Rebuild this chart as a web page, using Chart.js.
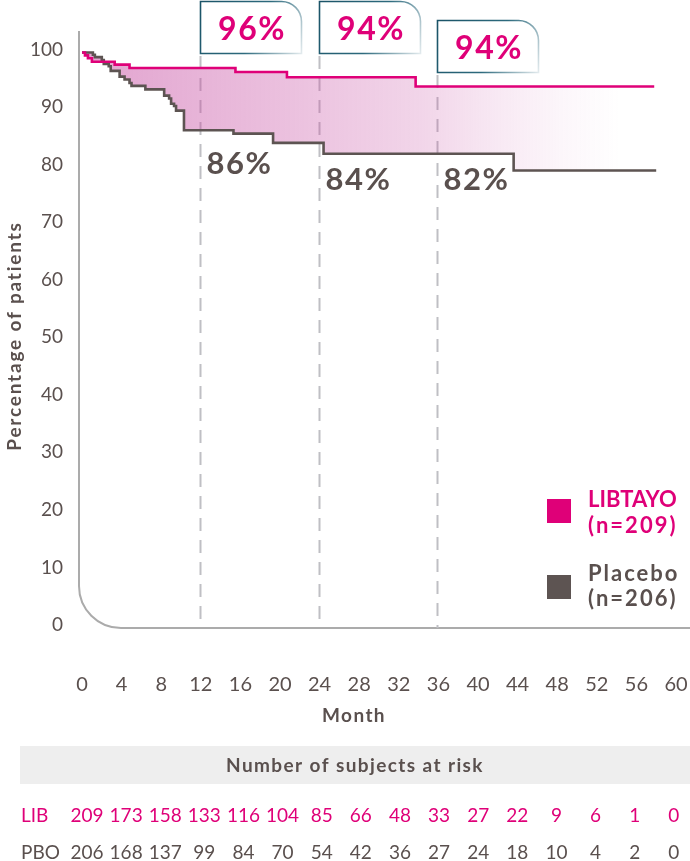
<!DOCTYPE html>
<html>
<head>
<meta charset="utf-8">
<script src="https://cdn.jsdelivr.net/npm/chart.js@4.4.1/dist/chart.umd.min.js"></script>
<style>
html,body{margin:0;padding:0;background:#ffffff;}
#wrap{width:690px;height:861px;position:relative;overflow:hidden;}
canvas{display:block;}
</style>
</head>
<body>
<div id="wrap"><canvas id="c" width="690" height="861"></canvas></div>
<script>
// ---------------- DATA ----------------
const monthTicks = [0,4,8,12,16,20,24,28,32,36,40,44,48,52,56,60];

// Kaplan-Meier steps: time (month) at which the curve drops, and the new value (%)
const libTimes = [0, 0.3, 0.6, 1.0, 3.3, 4.8, 15.5, 20.7, 33.7, 57.8];
const libSurv  = [100, 99.5, 99.0, 98.4, 97.9, 97.3, 96.6, 95.7, 94.1, 94.1];

const pboTimes = [0, 1.1, 1.3, 2.0, 2.2, 2.7, 2.9, 3.8, 4.3, 4.8, 5.0, 6.4, 8.3, 8.8, 9.0, 9.3, 9.5, 10.3, 15.3, 19.3, 24.4, 43.6, 58.0];
const pboSurv  = [100, 99.6, 99.2, 98.7, 98.0, 97.6, 96.8, 95.8, 95.3, 94.7, 94.2, 93.6, 92.5, 92.0, 91.1, 90.7, 89.9, 86.5, 85.9, 84.3, 82.4, 79.5, 79.5];

const markMonths     = [12, 24, 36];
const libMarkLabels  = ['96%', '94%', '94%'];
const pboMarkLabels  = ['86%', '84%', '82%'];

const libAtRisk = [209,173,158,133,116,104,85,66,48,33,27,22,9,6,1,0];
const pboAtRisk = [206,168,137,99,84,70,54,42,36,27,24,18,10,4,2,0];

const seriesNames = ['LIBTAYO', 'Placebo'];
const seriesN     = ['(n=209)', '(n=206)'];
const rowNames    = ['LIB', 'PBO'];

// ---------------- STYLE ----------------
const FONT = 'Lato, "Noto Sans", sans-serif';
const PINK = '#df0078';
const GRAY = '#5d5452';
const TXT  = '#5a504e';

// layout constants (pixels)
const BOX_TOP    = [1, 1, 20];
const BOX_H      = 52;
const BOX_W      = 101;
const PBO_LABEL_BASE = [174, 190, 190];

Chart.defaults.font.family = FONT;

function fillGrad(context){
  const ch = context.chart;
  const a = ch.chartArea;
  if(!a) return 'rgba(199,79,163,0.4)';
  const g = ch.ctx.createLinearGradient(a.left, 0, 620, 0);
  g.addColorStop(0.00, 'rgba(199,79,163,0.52)');
  g.addColorStop(0.40, 'rgba(199,79,163,0.35)');
  g.addColorStop(0.63, 'rgba(199,79,163,0.24)');
  g.addColorStop(0.77, 'rgba(199,79,163,0.13)');
  g.addColorStop(0.89, 'rgba(199,79,163,0.05)');
  g.addColorStop(1.00, 'rgba(199,79,163,0.0)');
  return g;
}

function roundTopRightBox(ctx, l, t, w, h, r){
  ctx.beginPath();
  ctx.moveTo(l, t + h);
  ctx.lineTo(l, t);
  ctx.lineTo(l + w - r, t);
  ctx.arcTo(l + w, t, l + w, t + r, r);
  ctx.lineTo(l + w, t + h);
  ctx.closePath();
}

function spaced(ctx, px){
  if ('letterSpacing' in ctx) ctx.letterSpacing = px + 'px';
}

const decor = {
  id: 'decor',
  beforeDatasetsDraw(chart){
    const {ctx, chartArea: a, scales: {x, y}} = chart;
    const y0 = y.getPixelForValue(0);
    ctx.save();
    // custom L-shaped axis with rounded corner
    ctx.strokeStyle = '#ababab';
    ctx.lineWidth = 2;
    const ax = a.left - 3, r = 42;
    ctx.beginPath();
    ctx.moveTo(ax, 31);
    ctx.lineTo(ax, y0 - r);
    ctx.arcTo(ax, y0, ax + r, y0, r);
    ctx.lineTo(chart.width, y0);
    ctx.stroke();
    // dashed verticals
    ctx.setLineDash([13, 9]);
    ctx.strokeStyle = '#bfbfc4';
    markMonths.forEach((m, i) => {
      const px = Math.round(x.getPixelForValue(m)) - 0.5;
      ctx.beginPath();
      ctx.moveTo(px, BOX_TOP[i] + BOX_H + 3);
      ctx.lineTo(px, y0);
      ctx.stroke();
    });
    ctx.restore();
  },
  afterDatasetsDraw(chart){
    const {ctx, scales: {x}} = chart;
    const W = chart.width;
    ctx.save();
    // value boxes
    markMonths.forEach((m, i) => {
      const l = Math.round(x.getPixelForValue(m)) - 0.5;
      const t = BOX_TOP[i] + 0.5;
      const g = ctx.createLinearGradient(l, t, l + BOX_W, t + BOX_H);
      g.addColorStop(0, '#1a5367');
      g.addColorStop(0.55, '#2d6a7d');
      g.addColorStop(1, '#e2eaed');
      ctx.fillStyle = '#ffffff';
      roundTopRightBox(ctx, l, t, BOX_W, BOX_H, 20);
      ctx.fill();
      ctx.strokeStyle = g;
      ctx.lineWidth = 1.6;
      ctx.stroke();
      ctx.fillStyle = PINK;
      ctx.font = 'bold 32px ' + FONT;
      spaced(ctx, 1.5);
      ctx.textAlign = 'center';
      ctx.textBaseline = 'alphabetic';
      ctx.fillText(libMarkLabels[i], l + BOX_W / 2 + 1, t + 38);
      // placebo labels
      ctx.fillStyle = TXT;
      ctx.font = 'bold 31px ' + FONT;
      ctx.textAlign = 'left';
      ctx.fillText(pboMarkLabels[i], l + 6, PBO_LABEL_BASE[i]);
    });

    // legend
    const colors = [PINK, GRAY];
    const legTop = [499, 575];
    const legBase = [[507, 533], [581, 606]];
    const nameSpacing = [0, 2];
    for (let i = 0; i < 2; i++){
      ctx.fillStyle = colors[i];
      ctx.fillRect(547, legTop[i], 24, 24);
      ctx.fillStyle = i === 0 ? PINK : TXT;
      ctx.font = 'bold 22px ' + FONT;
      ctx.textAlign = 'left';
      spaced(ctx, nameSpacing[i]);
      ctx.fillText(seriesNames[i], 588, legBase[i][0]);
      spaced(ctx, 2);
      ctx.fillText(seriesN[i], 588, legBase[i][1]);
    }

    // axis titles
    ctx.fillStyle = TXT;
    ctx.font = 'bold 19px ' + FONT;
    spaced(ctx, 1.4);
    ctx.textAlign = 'center';
    ctx.fillText('Month', 354, 722);
    ctx.save();
    ctx.translate(21, 336);
    ctx.rotate(-Math.PI / 2);
    ctx.font = 'bold 19px ' + FONT;
    spaced(ctx, 1.8);
    ctx.fillText('Percentage of patients', 0, 0);
    ctx.restore();

    // number at risk table
    ctx.fillStyle = '#eeeeee';
    ctx.fillRect(20, 746, W - 20, 38);
    ctx.fillStyle = TXT;
    ctx.font = 'bold 19px ' + FONT;
    spaced(ctx, 1.4);
    ctx.textAlign = 'center';
    ctx.fillText('Number of subjects at risk', 355, 772);

    const rows = [libAtRisk, pboAtRisk];
    const rowBase = [822, 859];
    const rowCol = [PINK, TXT];
    for (let r = 0; r < 2; r++){
      ctx.fillStyle = rowCol[r];
      ctx.font = '19px ' + FONT;
      spaced(ctx, 0);
      ctx.textAlign = 'left';
      ctx.fillText(rowNames[r], 21, rowBase[r]);
      ctx.textAlign = 'center';
      rows[r].forEach((v, k) => {
        const m = monthTicks[k];
        const px = x.getPixelForValue(m) + 5 - 0.12 * m;
        ctx.fillText(String(v), px, rowBase[r]);
      });
    }
    ctx.restore();
  }
};

const libData = libTimes.map((t, i) => ({x: t, y: libSurv[i]}));
const pboData = pboTimes.map((t, i) => ({x: t, y: pboSurv[i]}));

new Chart(document.getElementById('c'), {
  type: 'line',
  data: {
    datasets: [
      {label: seriesNames[0], data: libData, borderColor: PINK, borderWidth: 2.6,
       stepped: 'before', pointRadius: 0, fill: false, clip: false},
      {label: seriesNames[1], data: pboData, borderColor: GRAY, borderWidth: 2.6,
       stepped: 'before', pointRadius: 0, fill: '-1', backgroundColor: fillGrad, clip: false}
    ]
  },
  options: {
    responsive: false,
    animation: false,
    devicePixelRatio: 1,
    layout: {padding: {top: 52.5, right: 14, left: 0, bottom: 0}},
    plugins: {legend: {display: false}, tooltip: {enabled: false}},
    scales: {
      x: {
        type: 'linear', min: 0, max: 60,
        grid: {display: false, drawTicks: true, tickLength: 45},
        border: {display: false},
        ticks: {stepSize: 4, autoSkip: false, maxRotation: 0, padding: 0, color: TXT, font: {size: 20}},
        afterFit(s){ s.height = 233; }
      },
      y: {
        min: 0, max: 100,
        grid: {display: false, drawTicks: false},
        border: {display: false},
        ticks: {stepSize: 10, padding: 19, labelOffset: -3, color: TXT, font: {size: 19}},
        afterFit(s){ s.width = 82; }
      }
    }
  },
  plugins: [decor]
});
</script>
</body>
</html>
